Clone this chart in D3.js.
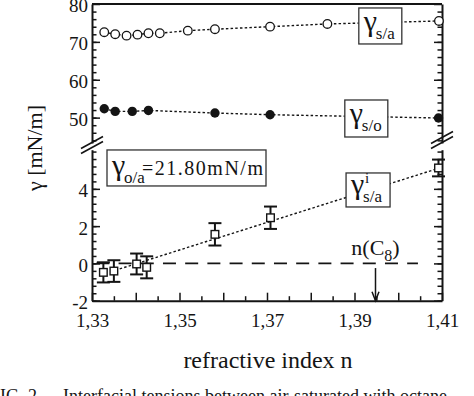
<!DOCTYPE html>
<html>
<head>
<meta charset="utf-8">
<script src="https://cdn.jsdelivr.net/npm/d3@7.9.0/dist/d3.min.js"></script>
<style>
  body { margin: 0; background: #fff; }
</style>
</head>
<body>
<div id="chart"></div>
<script>
// gamma s/a (open circles)
const nSA = [1.3328, 1.3353, 1.3379, 1.3404, 1.3429, 1.3455, 1.3519, 1.3581, 1.3707, 1.3838, 1.4093];
const gammaSA = [72.55, 72.02, 71.65, 71.91, 72.28, 72.28, 72.97, 73.34, 74.02, 74.73, 75.52];

// gamma s/o (filled circles)
const nSO = [1.3328, 1.3353, 1.3392, 1.3429, 1.3581, 1.3707, 1.4092];
const gammaSO = [52.35, 51.64, 51.64, 51.9, 51.21, 50.77, 49.9];

// gamma^i s/a (squares with error bars)
const nI = [1.3326, 1.3350, 1.3402, 1.3425, 1.3581, 1.3708, 1.4092];
const gammaI = [-0.48, -0.41, -0.03, -0.21, 1.56, 2.45, 5.12];
const errI = [0.54, 0.58, 0.56, 0.59, 0.6, 0.6, 0.45];

// straight dotted line through the gamma^i points
const fitN = [1.3353, 1.4092];
const fitGamma = [-0.37, 5.1];

// dashed zero line and n(C8) marker
const zeroN = [1.331, 1.4045];
const nC8 = 1.3948;

const xTicks = [1.33, 1.35, 1.37, 1.39, 1.41];
const upperTicks = [50, 60, 70, 80];
const lowerTicks = [-2, 0, 2, 4];

const W = 474, H = 396;
const ink = '#141414';
const FONT = 'Liberation Serif';

const svg = d3.select('#chart').append('svg').attr('width', W).attr('height', H);

const x = d3.scaleLinear().domain([1.33, 1.41]).range([92, 442]);
const yU = d3.scaleLinear().domain([43.3, 80]).range([143, 4]);
const yL = d3.scaleLinear().domain([-2, 6.1]).range([300.7, 149.7]);

function txt(parent, size) {
  return parent.append('text').attr('font-size', size).attr('fill', ink);
}

function styleAxis(g) {
  g.attr('font-size', 19).attr('font-family', null);
  g.selectAll('.domain').attr('stroke', ink).attr('stroke-width', 2);
  g.selectAll('.tick line').attr('stroke', ink).attr('stroke-width', 1.5);
  g.selectAll('.tick text').attr('fill', ink);
}

function vAxis(axisFn, scale, major, minor, tx, labelDy) {
  const g = svg.append('g').attr('transform', `translate(${tx},0)`);
  g.append('g')
    .call(axisFn(scale).tickValues(minor).tickSize(-4.5).tickFormat(''))
    .call(styleAxis)
    .call(s => s.select('.domain').remove());
  g.append('g')
    .call(axisFn(scale).tickValues(major).tickSizeInner(-8).tickSizeOuter(0)
      .tickPadding(4).tickFormat(labelDy ? d => String(d) : ''))
    .call(styleAxis)
    .call(s => s.selectAll('.tick text').attr('dy', labelDy));
}

// left / right axes, two segments each
vAxis(d3.axisLeft, yU, upperTicks, d3.range(44, 80, 2), x.range()[0], '0.42em');
vAxis(d3.axisLeft, yL, lowerTicks, d3.range(-2, 6.05, 0.4), x.range()[0], '0.42em');
vAxis(d3.axisRight, yU, upperTicks, d3.range(44, 80, 2), x.range()[1], null);
vAxis(d3.axisRight, yL, lowerTicks, d3.range(-2, 6.05, 0.4), x.range()[1], null);

// bottom axis
const xb = svg.append('g').attr('transform', `translate(0,${yL(-2)})`);
xb.append('g').call(d3.axisBottom(x).tickValues(d3.range(1.335, 1.41, 0.01)).tickSize(-4.5).tickFormat(''))
  .call(styleAxis).call(s => s.select('.domain').remove());
xb.append('g').call(d3.axisBottom(x).tickValues(d3.range(1.34, 1.405, 0.02)).tickSize(-8).tickFormat(''))
  .call(styleAxis).call(s => s.select('.domain').remove());
xb.append('g')
  .call(d3.axisBottom(x).tickValues(xTicks).tickSizeInner(-8).tickSizeOuter(0).tickPadding(13)
    .tickFormat(d => d.toFixed(2).replace('.', ',')))
  .call(styleAxis);

// top frame line
svg.append('line')
  .attr('x1', x.range()[0]).attr('x2', x.range()[1])
  .attr('y1', yU(80)).attr('y2', yU(80))
  .attr('stroke', ink).attr('stroke-width', 2);

// axis break marks
function breakMark(cx, cy) {
  [-2.5, 2.5].forEach(off => {
    svg.append('line')
      .attr('x1', cx - 11).attr('y1', cy + off + 6)
      .attr('x2', cx + 11).attr('y2', cy + off - 6)
      .attr('stroke', ink).attr('stroke-width', 1.6);
  });
}
breakMark(x.range()[0], 145);
breakMark(x.range()[1], 140);

// axis titles
txt(svg, 22)
  .attr('transform', 'translate(42,148) rotate(-90)')
  .attr('text-anchor', 'middle')
  .text('γ [mN/m]');

txt(svg, 24)
  .attr('x', 268).attr('y', 368)
  .attr('text-anchor', 'middle')
  .text('refractive index n');

// caption, cut by the bottom edge
txt(svg, 18).attr('x', -10).attr('y', 402).text('FIG. 2.');
txt(svg, 18).attr('x', 63).attr('y', 402)
  .text('Interfacial tensions between air-saturated with octane');

// lines
const dotted = '2.5,2.2';
svg.append('path')
  .datum(d3.zip(nSA, gammaSA))
  .attr('d', d3.line().x(d => x(d[0])).y(d => yU(d[1])))
  .attr('fill', 'none').attr('stroke', ink).attr('stroke-width', 1.4).attr('stroke-dasharray', dotted);

svg.append('path')
  .datum(d3.zip(nSO, gammaSO))
  .attr('d', d3.line().x(d => x(d[0])).y(d => yU(d[1])))
  .attr('fill', 'none').attr('stroke', ink).attr('stroke-width', 1.4).attr('stroke-dasharray', dotted);

svg.append('path')
  .datum(d3.zip(fitN, fitGamma))
  .attr('d', d3.line().x(d => x(d[0])).y(d => yL(d[1])))
  .attr('fill', 'none').attr('stroke', ink).attr('stroke-width', 1.4).attr('stroke-dasharray', dotted);

svg.append('line')
  .attr('x1', x(zeroN[0])).attr('x2', x(zeroN[1]))
  .attr('y1', yL(0)).attr('y2', yL(0))
  .attr('stroke', ink).attr('stroke-width', 1.6).attr('stroke-dasharray', '13,9.2');

// labels in boxes (box size and text offsets are fixed)
function gammaLabel(cx, cy, w, h, sub, sup, extra) {
  const g = svg.append('g').attr('transform', `translate(${cx - w / 2},${cy - h / 2})`);
  g.append('rect').attr('width', w).attr('height', h)
    .attr('fill', '#fff').attr('stroke', '#333').attr('stroke-width', 1.3);
  const base = extra ? 25 : (sup ? 21 : 23);
  txt(g, 30).attr('x', 5).attr('y', base).text('γ');
  txt(g, 17).attr('x', 17).attr('y', base + 8).text(sub);
  if (sup) txt(g, 15).attr('x', 19).attr('y', base - 11).text(sup);
  if (extra) {
    txt(g, 20).attr('x', 35).attr('y', base)
      .attr('textLength', 121).attr('lengthAdjust', 'spacing').text(extra);
  }
}

gammaLabel(x(1.3959), yU(74.2), 43, 36, 's/a');
gammaLabel(x(1.3927), yU(49.77), 43, 37, 's/o');
gammaLabel(x(1.3931), yL(3.94), 44, 34, 's/a', 'i');
gammaLabel(x(1.3516), yL(5.12), 159, 36, 'o/a', null, '=21.80mN/m');

// n(C8) arrow
const ax = x(nC8);
svg.append('line')
  .attr('x1', ax).attr('x2', ax).attr('y1', yL(-0.25)).attr('y2', yL(-2))
  .attr('stroke', ink).attr('stroke-width', 1.5);
svg.append('path')
  .attr('d', `M${ax - 3.5},${yL(-2) - 9}L${ax},${yL(-2)}L${ax + 3.5},${yL(-2) - 9}`)
  .attr('fill', 'none').attr('stroke', ink).attr('stroke-width', 1.5);
const c8 = txt(svg, 22).attr('y', 255).attr('text-anchor', 'middle').attr('x', ax);
c8.append('tspan').text('n(C');
c8.append('tspan').attr('dy', 6).attr('font-size', 16).text('8');
c8.append('tspan').attr('dy', -6).text(')');

// error bars
const ebar = svg.append('g').attr('stroke', ink).attr('stroke-width', 2);
nI.forEach((n, i) => {
  const cx = x(n), lo = yL(gammaI[i] - errI[i]), hi = yL(gammaI[i] + errI[i]);
  ebar.append('line').attr('x1', cx).attr('x2', cx).attr('y1', lo).attr('y2', hi);
  ebar.append('line').attr('x1', cx - 6.5).attr('x2', cx + 6.5).attr('y1', lo).attr('y2', lo);
  ebar.append('line').attr('x1', cx - 6.5).attr('x2', cx + 6.5).attr('y1', hi).attr('y2', hi);
});

// markers
svg.append('g').selectAll('rect')
  .data(d3.zip(nI, gammaI))
  .join('rect')
  .attr('x', d => x(d[0]) - 3.8).attr('y', d => yL(d[1]) - 3.8)
  .attr('width', 7.6).attr('height', 7.6)
  .attr('fill', '#fff').attr('stroke', ink).attr('stroke-width', 1.4);

svg.append('g').selectAll('circle')
  .data(d3.zip(nSA, gammaSA))
  .join('circle')
  .attr('cx', d => x(d[0])).attr('cy', d => yU(d[1])).attr('r', 4.3)
  .attr('fill', '#fff').attr('stroke', ink).attr('stroke-width', 1.3);

svg.append('g').selectAll('circle')
  .data(d3.zip(nSO, gammaSO))
  .join('circle')
  .attr('cx', d => x(d[0])).attr('cy', d => yU(d[1])).attr('r', 4.7)
  .attr('fill', ink);

// serif font on every text, set in one last pass
svg.selectAll('text').attr('font-family', FONT);
</script>
</body>
</html>
